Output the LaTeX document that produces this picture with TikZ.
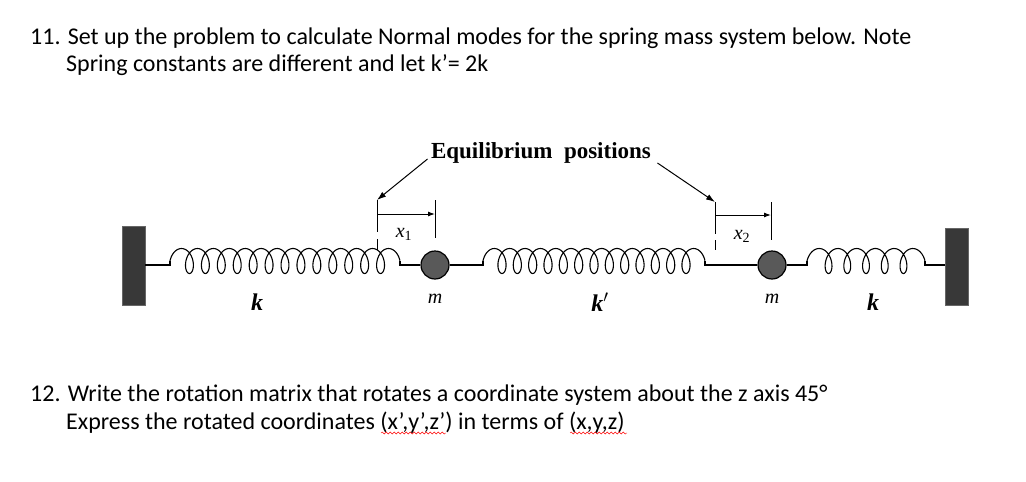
\documentclass[tikz,border=0pt]{standalone}
\usepackage{fontspec}
\setmainfont{Carlito}
\newfontfamily\tms{Liberation Serif}
\usetikzlibrary{decorations.pathmorphing,arrows.meta}
\newcommand\myspring[4]{% start, end, loops, name
  \pgfmathsetmacro\sA{7.5}
  \pgfmathsetmacro\sp{(#2-#1-2*\sA)/(#3+0.5)}
  \pgfmathsetmacro\sxs{#1+\sp/4+\sA}
  \pgfmathsetmacro\sdom{#3+0.25}
  \draw[spr] plot[domain=-0.25:\sdom,samples=#3*40+20,smooth] ({\sxs+\sp*\x+\sA*sin(360*\x)},{261-12.5*cos(360*\x)});
}
\begin{document}
\begin{tikzpicture}[x=1pt,y=-1pt,
  spr/.style={line width=1.1pt},
  wall/.style={fill=black!78,draw=black!60},
  mass/.style={circle,minimum size=28pt,inner sep=0pt,draw,line width=1.2pt,fill=black!65},
  lbl/.style={font=\tms\itshape\fontsize{20}{20}\selectfont},
  klbl/.style={font=\tms\bfseries\itshape\fontsize{24}{24}\selectfont},
  txt/.style={anchor=base west,inner sep=0pt,font=\fontsize{24}{24}\selectfont},
  wavy/.style={red,decorate,decoration={snake,amplitude=1pt,segment length=4pt}},
  mk/.style={line width=1pt}]
\useasboundingbox (0,0) rectangle (1026,482);
\node[txt] (t1) at (30,44) {11. Set up the problem to calculate Normal modes for the spring mass system below. Note};
\node[txt] (t2) at (66,71) {Spring constants are different and let k’= 2k};
\node[txt] (t3) at (30,401) {12. Write the rotation matrix that rotates a coordinate system about the z axis 45°};
\node[txt] (t4) at (66,429) {Express the rotated coordinates (x’,y’,z’) in terms of (x,y,z)};
% walls
\fill[wall] (122,226) rectangle (145,305);
\fill[wall] (945,228) rectangle (968,305);
\node[mass] (m1) at (435,265) {};
\node[mass] (m2) at (772,265) {};
% springs
\myspring{170}{400}{13}{s1}
\myspring{483}{705}{13}{s2}
\myspring{807}{925}{5}{s3}
\draw[spr] (145,265) -- (170,265) -- (170,261);
\draw[spr] (400,261) -- (400,265) -- (m1.west);
\draw[spr] (m1.east) -- (483,265) -- (483,261);
\draw[spr] (705,261) -- (705,265) -- (m2.west);
\draw[spr] (m2.east) -- (807,265) -- (807,261);
\draw[spr] (925,261) -- (925,265) -- (945,265);
% markers
\coordinate (a1) at (377,200); \coordinate (b1) at (435,200);
\draw[mk] (a1) -- (377,232) (377,239) -- (377,250);
\draw[mk] (b1) -- (435,238);
\draw[mk,-{Latex[length=7pt,width=5pt]}] (377,214) -- (435,214);
\coordinate (a2) at (715,202); \coordinate (b2) at (771,202);
\draw[mk] (a2) -- (715,234) (715,240) -- (715,250);
\draw[mk] (b2) -- (771,240);
\draw[mk,-{Latex[length=7pt,width=5pt]}] (715,215) -- (771,215);
\node[lbl] (x1) at (404,234) {x\textsubscript{\upshape 1}};
\node[lbl] (x2) at (742,236) {x\textsubscript{\upshape 2}};
\node[font=\tms\bfseries\fontsize{23}{23}\selectfont] (eq) at (541,153) {Equilibrium\ \ positions};
\draw[mk,-{Latex[length=9pt,width=6pt]}] (eq.west) ++(0,6) -- (a1);
\draw[mk,-{Latex[length=9pt,width=6pt]}] (eq.east) ++(3,10) -- (a2);
\node[klbl] (k1) at (257,302) {k};
\node[lbl] (mm1) at (435,299) {m};
\node[klbl] (k2) at (600,302) {k$'$};
\node[lbl] (mm2) at (772,299) {m};
\node[klbl] (k3) at (873,302) {k};
% squiggles
\draw[wavy] (381,433) -- (446,433);
\draw[wavy] (570,433) -- (627,433);
\end{tikzpicture}
\end{document}
